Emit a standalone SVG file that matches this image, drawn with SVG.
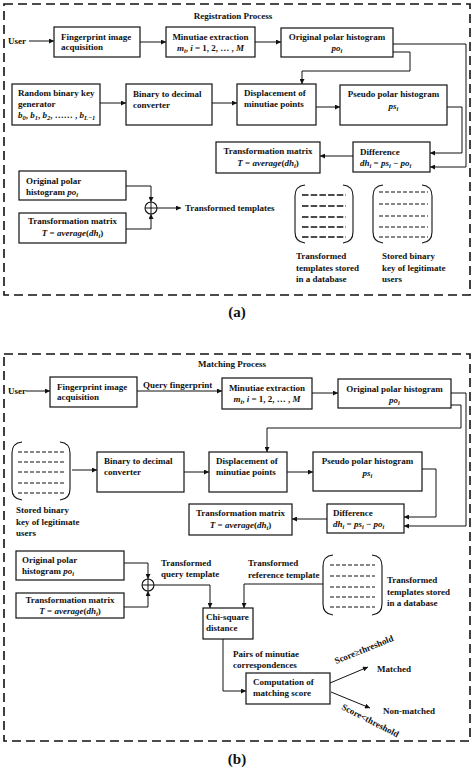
<svg xmlns="http://www.w3.org/2000/svg" width="474" height="771" viewBox="0 0 474 771">
<defs>
<marker id="ah" viewBox="0 0 10 10" refX="10" refY="5" markerWidth="6" markerHeight="5" orient="auto" markerUnits="userSpaceOnUse">
<path d="M0,0 L10,5 L0,10 z" fill="#111"/>
</marker>
</defs>
<style>
text{font-family:"Liberation Serif","Times New Roman",serif;font-weight:bold;font-size:9px;fill:#111}
.m{font-style:italic}
.s{font-size:6.5px;font-style:italic}
.mid{text-anchor:middle}
.box{fill:#fff;stroke:#111;stroke-width:1.2}
.c{fill:none;stroke:#111;stroke-width:1;marker-end:url(#ah)}
.frame{fill:none;stroke:#111;stroke-width:1.6;stroke-dasharray:9 5}
.br{fill:none;stroke:#111;stroke-width:1.1}
.dl{stroke:#111;stroke-width:1.4;stroke-dasharray:6.5 2.2}
.ds{stroke:#111;stroke-width:1.1;stroke-dasharray:4 2}
.big{font-size:15px}
</style>
<rect fill="#fff" x="0" y="0" width="474" height="771"/>

<!-- ================= (a) ================= -->
<g id="frame-a">
<rect class="frame" x="4" y="4" width="466" height="291"/>
<text class="mid" x="233" y="19">Registration Process</text>
<text x="8" y="44">User</text>
</g>
<g id="a-fia"><rect class="box" x="54" y="27" width="86" height="30"/>
<text x="61" y="40">Fingerprint image</text><text x="61" y="50">acquisition</text></g>
<g id="a-me"><rect class="box" x="166" y="27" width="89" height="30"/>
<text class="mid" x="210.5" y="40">Minutiae extraction</text>
<text class="mid" x="210.5" y="51"><tspan class="m">m</tspan><tspan class="s" dy="2">i</tspan><tspan dy="-2">, </tspan><tspan class="m">i</tspan> = 1, 2, … , <tspan class="m">M</tspan></text></g>
<g id="a-oph"><rect class="box" x="281" y="28" width="112" height="29"/>
<text class="mid" x="337" y="40">Original polar histogram</text>
<text class="mid" x="337" y="51"><tspan class="m">po</tspan><tspan class="s" dy="2">i</tspan></text></g>
<g id="a-rbk"><rect class="box" x="12" y="84" width="88" height="41"/>
<text x="18" y="96">Random binary key</text><text x="18" y="107">generator</text>
<text x="18" y="118"><tspan class="m">b</tspan><tspan class="s" dy="2">0</tspan><tspan dy="-2">, </tspan><tspan class="m">b</tspan><tspan class="s" dy="2">1</tspan><tspan dy="-2">, </tspan><tspan class="m">b</tspan><tspan class="s" dy="2">2</tspan><tspan dy="-2">, …… , </tspan><tspan class="m">b</tspan><tspan class="s" dy="2">L−1</tspan></text></g>
<g id="a-bdc"><rect class="box" x="126" y="84" width="86" height="41"/>
<text x="133" y="97">Binary to decimal</text><text x="133" y="108">converter</text></g>
<g id="a-disp"><rect class="box" x="237" y="84" width="79" height="41"/>
<text x="244" y="96">Displacement of</text><text x="244" y="107">minutiae points</text></g>
<g id="a-pph"><rect class="box" x="340" y="85" width="107" height="40"/>
<text class="mid" x="393.5" y="97">Pseudo polar histogram</text>
<text class="mid" x="393.5" y="109"><tspan class="m">ps</tspan><tspan class="s" dy="2">i</tspan></text></g>
<g id="a-tm"><rect class="box" x="216" y="142" width="104" height="31"/>
<text class="mid" x="268" y="154">Transformation matrix</text>
<text class="mid" x="268" y="166"><tspan class="m">T</tspan> = <tspan class="m">average</tspan>(<tspan class="m">dh</tspan><tspan class="s" dy="2">i</tspan><tspan dy="-2">)</tspan></text></g>
<g id="a-diff"><rect class="box" x="353" y="142" width="77" height="30"/>
<text x="360" y="155">Difference</text>
<text x="360" y="166"><tspan class="m">dh</tspan><tspan class="s" dy="2">i</tspan><tspan dy="-2"> = </tspan><tspan class="m">ps</tspan><tspan class="s" dy="2">i</tspan><tspan dy="-2"> − </tspan><tspan class="m">po</tspan><tspan class="s" dy="2">i</tspan></text></g>
<g id="a-oph2"><rect class="box" x="19" y="171" width="107" height="29"/>
<text x="26" y="184">Original polar</text>
<text x="26" y="195">histogram <tspan class="m">po</tspan><tspan class="s" dy="2">i</tspan></text></g>
<g id="a-tm2"><rect class="box" x="19" y="213" width="107" height="30"/>
<text class="mid" x="72.5" y="224">Transformation matrix</text>
<text class="mid" x="72.5" y="236"><tspan class="m">T</tspan> = <tspan class="m">average</tspan>(<tspan class="m">dh</tspan><tspan class="s" dy="2">i</tspan><tspan dy="-2">)</tspan></text></g>
<g id="a-xor"><circle cx="151" cy="208" r="6" fill="#fff" stroke="#111" stroke-width="1.1"/>
<line x1="145" y1="208" x2="157" y2="208" stroke="#111" stroke-width="1"/><line x1="151" y1="202" x2="151" y2="214" stroke="#111" stroke-width="1"/></g>
<g id="a-tt"><text x="185" y="211">Transformed templates</text></g>
<g id="a-db">
<path class="br" d="M305,185 Q295,186 295,196 L295,232 Q295,242 305,243"/>
<path class="br" d="M343,185 Q353,186 353,196 L353,232 Q353,242 343,243"/>
<line class="dl" x1="302" y1="195" x2="346" y2="195"/><line class="dl" x1="302" y1="206" x2="346" y2="206"/>
<line class="dl" x1="302" y1="217" x2="346" y2="217"/><line class="dl" x1="302" y1="227" x2="346" y2="227"/>
<line class="dl" x1="302" y1="237" x2="346" y2="237"/>
<text x="296" y="259">Transformed</text><text x="296" y="271">templates stored</text><text x="296" y="282">in a database</text>
</g>
<g id="a-key">
<path class="br" d="M383,185 Q373,186 373,196 L373,232 Q373,242 383,243"/>
<path class="br" d="M422,185 Q432,186 432,196 L432,232 Q432,242 422,243"/>
<line class="ds" x1="379" y1="192" x2="428" y2="192"/><line class="ds" x1="379" y1="204" x2="428" y2="204"/>
<line class="ds" x1="379" y1="216" x2="428" y2="216"/><line class="ds" x1="379" y1="227" x2="428" y2="227"/>
<line class="ds" x1="379" y1="237" x2="428" y2="237"/>
<text x="382" y="259">Stored binary</text><text x="382" y="271">key of legitimate</text><text x="382" y="282">users</text>
</g>
<text class="mid big" x="237" y="317">(a)</text>

<!-- ================= (b) ================= -->
<g id="frame-b">
<rect class="frame" x="4" y="354" width="466" height="387"/>
<text class="mid" x="232" y="367">Matching Process</text>
<text x="8" y="394">User</text>
<text x="143" y="388">Query fingerprint</text>
</g>
<g id="b-fia"><rect class="box" x="50" y="377" width="87" height="30"/>
<text x="57" y="390">Fingerprint image</text><text x="57" y="400">acquisition</text></g>
<g id="b-me"><rect class="box" x="222" y="378" width="90" height="31"/>
<text class="mid" x="267" y="391">Minutiae extraction</text>
<text class="mid" x="267" y="402"><tspan class="m">m</tspan><tspan class="s" dy="2">i</tspan><tspan dy="-2">, </tspan><tspan class="m">i</tspan> = 1, 2, … , <tspan class="m">M</tspan></text></g>
<g id="b-oph"><rect class="box" x="338" y="379" width="113" height="29"/>
<text class="mid" x="394.5" y="392">Original polar histogram</text>
<text class="mid" x="394.5" y="403"><tspan class="m">po</tspan><tspan class="s" dy="2">i</tspan></text></g>
<g id="b-key">
<path class="br" d="M22,442 Q12,443 12,453 L12,489 Q12,499 22,500"/>
<path class="br" d="M60,442 Q70,443 70,453 L70,489 Q70,499 60,500"/>
<line class="ds" x1="18" y1="452" x2="64" y2="452"/><line class="ds" x1="18" y1="462" x2="64" y2="462"/>
<line class="ds" x1="18" y1="472" x2="64" y2="472"/><line class="ds" x1="18" y1="483" x2="64" y2="483"/>
<line class="ds" x1="18" y1="493" x2="64" y2="493"/>
<text x="16" y="513">Stored binary</text><text x="16" y="525">key of legitimate</text><text x="16" y="536">users</text>
</g>
<g id="b-bdc"><rect class="box" x="97" y="452" width="87" height="40"/>
<text x="104" y="464">Binary to decimal</text><text x="104" y="475">converter</text></g>
<g id="b-disp"><rect class="box" x="209" y="452" width="78" height="40"/>
<text x="216" y="464">Displacement of</text><text x="216" y="475">minutiae points</text></g>
<g id="b-pph"><rect class="box" x="313" y="452" width="109" height="39"/>
<text class="mid" x="367.5" y="464">Pseudo polar histogram</text>
<text class="mid" x="367.5" y="476"><tspan class="m">ps</tspan><tspan class="s" dy="2">i</tspan></text></g>
<g id="b-tm"><rect class="box" x="189" y="504" width="103" height="31"/>
<text class="mid" x="240.5" y="516">Transformation matrix</text>
<text class="mid" x="240.5" y="528"><tspan class="m">T</tspan> = <tspan class="m">average</tspan>(<tspan class="m">dh</tspan><tspan class="s" dy="2">i</tspan><tspan dy="-2">)</tspan></text></g>
<g id="b-diff"><rect class="box" x="327" y="504" width="77" height="29"/>
<text x="333" y="516">Difference</text>
<text x="333" y="527"><tspan class="m">dh</tspan><tspan class="s" dy="2">i</tspan><tspan dy="-2"> = </tspan><tspan class="m">ps</tspan><tspan class="s" dy="2">i</tspan><tspan dy="-2"> − </tspan><tspan class="m">po</tspan><tspan class="s" dy="2">i</tspan></text></g>
<g id="b-oph2"><rect class="box" x="16" y="551" width="108" height="29"/>
<text x="22" y="563">Original polar</text>
<text x="22" y="574">histogram <tspan class="m">po</tspan><tspan class="s" dy="2">i</tspan></text></g>
<g id="b-tm2"><rect class="box" x="16" y="593" width="108" height="25"/>
<text class="mid" x="70" y="603">Transformation matrix</text>
<text class="mid" x="70" y="614"><tspan class="m">T</tspan> = <tspan class="m">average</tspan>(<tspan class="m">dh</tspan><tspan class="s" dy="2">i</tspan><tspan dy="-2">)</tspan></text></g>
<g id="b-xor"><circle cx="148" cy="585" r="6" fill="#fff" stroke="#111" stroke-width="1.1"/>
<line x1="142" y1="585" x2="154" y2="585" stroke="#111" stroke-width="1"/><line x1="148" y1="579" x2="148" y2="591" stroke="#111" stroke-width="1"/></g>
<g id="b-labels">
<text x="161" y="566">Transformed</text><text x="161" y="577">query template</text>
<text x="248" y="566">Transformed</text><text x="248" y="578">reference template</text>
<text x="233" y="657">Pairs of minutiae</text><text x="233" y="668">correspondences</text>
</g>
<g id="b-db">
<path class="br" d="M333,555 Q323,556 323,566 L323,604 Q323,614 333,615"/>
<path class="br" d="M372,555 Q382,556 382,566 L382,604 Q382,614 372,615"/>
<line class="ds" x1="330" y1="565" x2="375" y2="565"/><line class="ds" x1="330" y1="576" x2="375" y2="576"/>
<line class="ds" x1="330" y1="587" x2="375" y2="587"/><line class="ds" x1="330" y1="597" x2="375" y2="597"/>
<line class="ds" x1="330" y1="607" x2="375" y2="607"/>
<text x="387" y="583">Transformed</text><text x="387" y="595">templates stored</text><text x="387" y="606">in a database</text>
</g>
<g id="b-chi"><rect class="box" x="203" y="608" width="50" height="31"/>
<text x="206" y="620">Chi-square</text><text x="206" y="631">distance</text></g>
<g id="b-comp"><rect class="box" x="246" y="673" width="84" height="31"/>
<text x="253" y="685">Computation of</text><text x="253" y="696">matching score</text></g>
<g id="b-out">
<text x="377" y="672">Matched</text>
<text x="383" y="714">Non-matched</text>
<text transform="translate(336,664) rotate(-22)">Score≥threshold</text>
<text transform="translate(341,709) rotate(27)">Score&lt;threshold</text>
</g>
<text class="mid big" x="237" y="764">(b)</text>

<g id="connectors">
<path class="c" d="M29,41 H54"/>
<path class="c" d="M140,42 H166"/>
<path class="c" d="M255,42 H281"/>
<path class="c" d="M393,44 H466 V167 H430"/>
<path class="c" d="M393,52 H410 V71 H302 V84"/>
<path class="c" d="M100,103 H126"/>
<path class="c" d="M212,103 H237"/>
<path class="c" d="M316,107 H340"/>
<path class="c" d="M447,107 H462 V153 H430"/>
<path class="c" d="M353,156 H320"/>
<path class="c" d="M126,186 H151 V202"/>
<path class="c" d="M126,229 H151 V214"/>
<path class="c" d="M157,208 H181"/>

<path class="c" d="M26,391 H50"/>
<path class="c" d="M137,391 H222"/>
<path class="c" d="M312,393 H338"/>
<path class="c" d="M451,393 H466 V526 H404"/>
<path class="c" d="M451,405 H461 V428 H267 V452"/>
<path class="c" d="M72,470 H97"/>
<path class="c" d="M184,472 H209"/>
<path class="c" d="M287,472 H313"/>
<path class="c" d="M422,469 H436 V517 H404"/>
<path class="c" d="M327,519 H292"/>
<path class="c" d="M124,563 H148 V579"/>
<path class="c" d="M124,607 H148 V591"/>
<path class="c" d="M154,585 H210 V608"/>
<path class="c" d="M323,584 H244 V608"/>
<path class="c" d="M223,639 V691 H246"/>
<path class="c" d="M330,683 L368,667"/>
<path class="c" d="M331,692 L370,708"/>
</g>
</svg>
